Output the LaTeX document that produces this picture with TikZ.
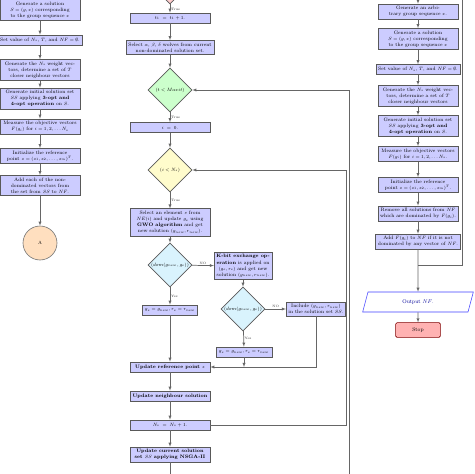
\documentclass[tikz,border=0pt]{standalone}
\usepackage{amssymb}
\usepackage{amsmath}
\usetikzlibrary{shapes.geometric}

\tikzset{
  block/.style={rectangle, draw=black!65, line width=0.9pt, fill=blue!20, align=center,
    font=\fontsize{7.4}{9.2}\selectfont, inner sep=3.3pt, minimum width=120pt, minimum height=15pt},
  decide/.style={diamond, draw=black!65, line width=0.9pt, align=center, font=\scriptsize,
    inner sep=0pt, minimum width=66pt, minimum height=66pt},
  wire/.style={draw=black!60, line width=1.1pt},
  flow/.style={wire, -latex},
  lbl/.style={font=\tiny, inner sep=1pt, text=black!80},
}

\begin{document}
\begin{tikzpicture}[x=1.5pt, y=-1.5pt]
            \clip (0,0) rectangle (474,474);
            % left column
            \node[block] (lsol) at (40,10) {Generate a solution\\ $S=(g,x)$ corresponding\\ to the group sequence $x$};
            \node[block] (lset) at (40,40) {Set value of $N_s$, $T$, and $NF=\emptyset$.};
            \node[block] (lwv) at (40,70) {Generate the $N_s$ weight vec-\\ tors, determine a set of $T$\\ closer neighbour vectors};
            \node[block] (linit) at (40,98.5) {Generate initial solution set\\ $SS$ applying \textbf{3-opt and}\\ \textbf{4-opt operation} on $S$.};
            \node[block] (lmeas) at (40,126.5) {Measure the objective vectors\\ $F(g_i)$ for $i=1,2,\ldots N_s$};
            \node[block] (lref) at (40,156) {Initialize the reference\\ point $z=(z_1,z_2,\ldots,z_m)^T$.};
            \node[block] (ladd) at (40,185.5) {Add each of the non-\\ dominated vectors from\\ the set from $SS$ to $NF$.};
            \node[circle, draw=black!55, line width=0.9pt, fill=orange!25, minimum size=51pt, font=\scriptsize] (conA) at (40,243) {A};
            \draw[flow] (lsol) -- (lset);
            \draw[flow] (lset) -- (lwv);
            \draw[flow] (lwv) -- (linit);
            \draw[flow] (linit) -- (lmeas);
            \draw[flow] (lmeas) -- (lref);
            \draw[flow] (lref) -- (ladd);
            \draw[flow] (ladd) -- (conA);
            % middle column
            \node[decide, fill=red!20] (tchk) at (170,-18) {};
            \node[block] (tinc) at (170,18) {$t_1 \;=\; t_1+1.$};
            \node[block] (wolf) at (170,47.5) {Select $\alpha$, $\beta$, $\delta$ wolves from current\\ non-dominated solution set.};
            \node[decide, fill=green!20] (tmax) at (170,90) {$(t<Maxit)$};
            \node[block] (izero) at (170,127.5) {$i \;=\; 0.$};
            \node[decide, fill=yellow!20] (iloop) at (170,170) {$(i<N_s)$};
            \node[block] (gwo) at (170,222.5) {Select an element $e$ from\\ $NE(i)$ and update $g_e$ using\\ \textbf{GWO algorithm} and get\\ new solution $(g_{new},r_{new})$.};
            \node[decide, fill=cyan!15] (dom1) at (170,265) {$(dom(g_{new},g_e))$};
            \node[block, minimum width=80pt] (kbit) at (243,266) {\textbf{K-bit exchange op-}\\ \textbf{eration} is applied on\\ $(g_e,r_e)$ and get new\\ solution $(g_{new},r_{new})$.};
            \node[block, minimum width=75pt] (upd1) at (170,310) {$g_e=g_{new}, r_e=r_{new}$};
            \node[decide, fill=cyan!15] (dom2) at (243,309) {$(dom(g_{new},g_e))$};
            \node[block, minimum width=81pt] (incl) at (316,309) {Include $(g_{new},r_{new})$\\ in the solution set $SS$.};
            \node[block, minimum width=84pt] (upd2) at (244,352) {$g_e=g_{new}, r_e=r_{new}$};
            \node[block] (refz) at (170,367) {\textbf{Update reference point $z$}};
            \node[block] (nbr) at (170,396) {\textbf{Update neighbour solution}};
            \node[block] (ninc) at (170,425) {$N_s \;=\; N_s+1.$};
            \node[block] (nsga) at (170,454.5) {\textbf{Update current solution}\\ \textbf{set $SS$ applying NSGA-II}};
            \coordinate (j2) at (upd2 |- refz);
            \coordinate (ibend) at (346,425);
            \coordinate (tbot) at (349,480);
            \coordinate (mbot) at (170,480);
            \draw[flow] (tchk) -- node[lbl, right, pos=0.55] {True} (tinc);
            \draw[flow] (tinc) -- (wolf);
            \draw[flow] (wolf) -- (tmax);
            \draw[flow] (tmax) -- node[lbl, right] {True} (izero);
            \draw[flow] (izero) -- (iloop);
            \draw[flow] (iloop) -- node[lbl, right] {True} (gwo);
            \draw[flow] (gwo) -- (dom1);
            \draw[flow] (dom1) -- node[lbl, above] {NO} (kbit);
            \draw[flow] (dom1) -- node[lbl, right] {Yes} (upd1);
            \draw[flow] (kbit) -- (dom2);
            \draw[flow] (dom2) -- node[lbl, above] {NO} (incl);
            \draw[flow] (dom2) -- node[lbl, right] {Yes} (upd2);
            \draw[flow] (upd1) -- (refz);
            \draw[flow] (incl.south) |- (refz.east);
            \draw[flow] (upd2) -- (j2);
            \draw[flow] (refz) -- (nbr);
            \draw[flow] (nbr) -- (ninc);
            \draw[flow] (ninc) -- (nsga);
            \draw[wire] (nsga) -- (mbot);
            \draw[flow] (ninc.east) -- (ibend) |- (iloop.east);
            \draw[flow] (tbot) |- (tmax.east);
            % right column
            \coordinate (rtop) at (418,-5);
            \node[block] (rgen) at (418,11.5) {Generate an arbi-\\ trary group sequence $x$.};
            \node[block] (rsol) at (418,39) {Generate a solution\\ $S=(g,x)$ corresponding\\ to the group sequence $x$};
            \node[block] (rset) at (418,69.5) {Set value of $N_s$, $T$, and $NF=\emptyset$.};
            \node[block] (rwv) at (418,96) {Generate the $N_s$ weight vec-\\ tors, determine a set of $T$\\ closer neighbour vectors};
            \node[block] (rinit) at (418,126) {Generate initial solution set\\ $SS$ applying \textbf{3-opt and}\\ \textbf{4-opt operation} on $S$.};
            \node[block] (rmeas) at (418,154) {Measure the objective vectors\\ $F(g_i)$ for $i=1,2,\ldots N_s$.};
            \node[block] (rref) at (418,185) {Initialize the reference\\ point $z=(z_1,z_2,\ldots,z_m)^T$.};
            \node[block] (rrem) at (418,213.5) {Remove all solutions from $NF$\\ which are dominated by $F(g_i)$.};
            \node[block] (radd) at (418,241.5) {Add $F(g_i)$ to $NF$ if it is not\\ dominated by any vector of $NF$.};
            \coordinate (rj) at (418,265);
            \coordinate (rloop) at (462,-5);
            \node[trapezium, trapezium left angle=60, trapezium right angle=120, trapezium stretches body,
              draw=blue!75, line width=0.8pt, fill=white, minimum width=166pt, minimum height=30pt,
              font=\footnotesize, text=blue!60!black] (outp) at (418,302) {Output $NF$.};
            \node[rectangle, rounded corners=2pt, draw=red!50!black, line width=0.9pt, fill=red!30,
              minimum width=67pt, minimum height=22pt, font=\footnotesize] (stop) at (418,330) {Stop};
            \draw[flow] (rtop) -- (rgen);
            \draw[flow] (rgen) -- (rsol);
            \draw[flow] (rsol) -- (rset);
            \draw[flow] (rset) -- (rwv);
            \draw[flow] (rwv) -- (rinit);
            \draw[flow] (rinit) -- (rmeas);
            \draw[flow] (rmeas) -- (rref);
            \draw[flow] (rref) -- (rrem);
            \draw[flow] (rrem) -- (radd);
            \draw[flow] (radd) -- (outp);
            \draw[wire] (rj) -| (rloop);
            \draw[flow] (outp) -- (stop);
        \end{tikzpicture}
\end{document}
